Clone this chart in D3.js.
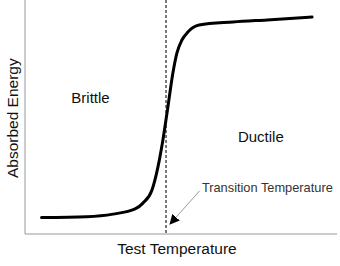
<!DOCTYPE html>
<html>
<head>
<meta charset="utf-8">
<script src="https://cdn.jsdelivr.net/npm/d3@7"></script>
<style>
  body { margin: 0; background: #fff; }
  svg { display: block; font-family: "Liberation Sans", Arial, sans-serif; }
</style>
</head>
<body>
<div id="chart"></div>
<script>
// curve (temperature, energy), both on 0-100 scales
const temperature = [5.3, 19.8, 28.2, 35.3, 37.8, 40.7, 42.6, 44.2, 45.8, 47.4, 48.7, 50.3, 52.2, 55.8, 66.7, 77.6, 92.0];
const energy = [7.0, 7.4, 8.5, 10.7, 13.2, 18.8, 28.6, 40.2, 54.3, 68.8, 77.4, 82.9, 86.3, 89.3, 90.6, 91.5, 92.7];
const transitionTemp = 45.2;
const labels = ["Brittle", "Ductile", "Transition Temperature"];
const axisTitles = ["Test Temperature", "Absorbed Energy"];

const width = 340, height = 266;
const margin = {top: 0, right: 3, bottom: 32, left: 25};

const svg = d3.select("#chart")
    .append("svg")
    .attr("width", width)
    .attr("height", height);

const x = d3.scaleLinear()
    .domain([0, 100])
    .range([margin.left, width - margin.right]);

const y = d3.scaleLinear()
    .domain([0, 100])
    .range([height - margin.bottom, margin.top]);

// arrow head
svg.append("defs").append("marker")
    .attr("id", "arrow")
    .attr("viewBox", "0 0 10 10")
    .attr("refX", 9)
    .attr("refY", 5)
    .attr("markerWidth", 10)
    .attr("markerHeight", 10)
    .attr("markerUnits", "userSpaceOnUse")
    .attr("orient", "auto")
    .append("path")
    .attr("d", "M0,0L10,5L0,10Z")
    .attr("fill", "#000");

// axes, no ticks
svg.append("line")
    .attr("x1", x(0)).attr("x2", x(0))
    .attr("y1", y(100)).attr("y2", y(0))
    .attr("stroke", "#999").attr("stroke-width", 1);
svg.append("line")
    .attr("x1", x(0)).attr("x2", x(100))
    .attr("y1", y(0)).attr("y2", y(0))
    .attr("stroke", "#999").attr("stroke-width", 1);

// dashed transition line
svg.append("line")
    .attr("x1", x(transitionTemp)).attr("x2", x(transitionTemp))
    .attr("y1", y(100)).attr("y2", y(0))
    .attr("stroke", "#222")
    .attr("stroke-width", 1.2)
    .attr("stroke-dasharray", "3,2");

// curve
const data = temperature.map((t, i) => ({t: t, e: energy[i]}));
svg.append("path")
    .datum(data)
    .attr("fill", "none")
    .attr("stroke", "#000")
    .attr("stroke-width", 3)
    .attr("stroke-linecap", "round")
    .attr("d", d3.line()
        .x(d => x(d.t))
        .y(d => y(d.e))
        .curve(d3.curveMonotoneX));

// region labels
svg.append("text")
    .attr("x", x(21)).attr("y", y(56))
    .attr("text-anchor", "middle")
    .attr("font-size", 15)
    .attr("fill", "#111")
    .text(labels[0]);
svg.append("text")
    .attr("x", x(75.6)).attr("y", y(39.5))
    .attr("text-anchor", "middle")
    .attr("font-size", 15)
    .attr("fill", "#111")
    .text(labels[1]);

// transition annotation
svg.append("line")
    .attr("x1", x(56)).attr("y1", y(18.5))
    .attr("x2", x(46.5)).attr("y2", y(4.3))
    .attr("stroke", "#999")
    .attr("stroke-width", 1)
    .attr("marker-end", "url(#arrow)");
svg.append("text")
    .attr("x", x(56.7)).attr("y", y(18))
    .attr("font-size", 12.8)
    .attr("fill", "#333")
    .text(labels[2]);

// axis titles
svg.append("text")
    .attr("x", x(48.7)).attr("y", 254)
    .attr("text-anchor", "middle")
    .attr("font-size", 15.5)
    .attr("fill", "#111")
    .text(axisTitles[0]);
svg.append("text")
    .attr("transform", `translate(17.5, ${y(49.5)}) rotate(-90)`)
    .attr("text-anchor", "middle")
    .attr("font-size", 15.5)
    .attr("fill", "#111")
    .text(axisTitles[1]);
</script>
</body>
</html>
